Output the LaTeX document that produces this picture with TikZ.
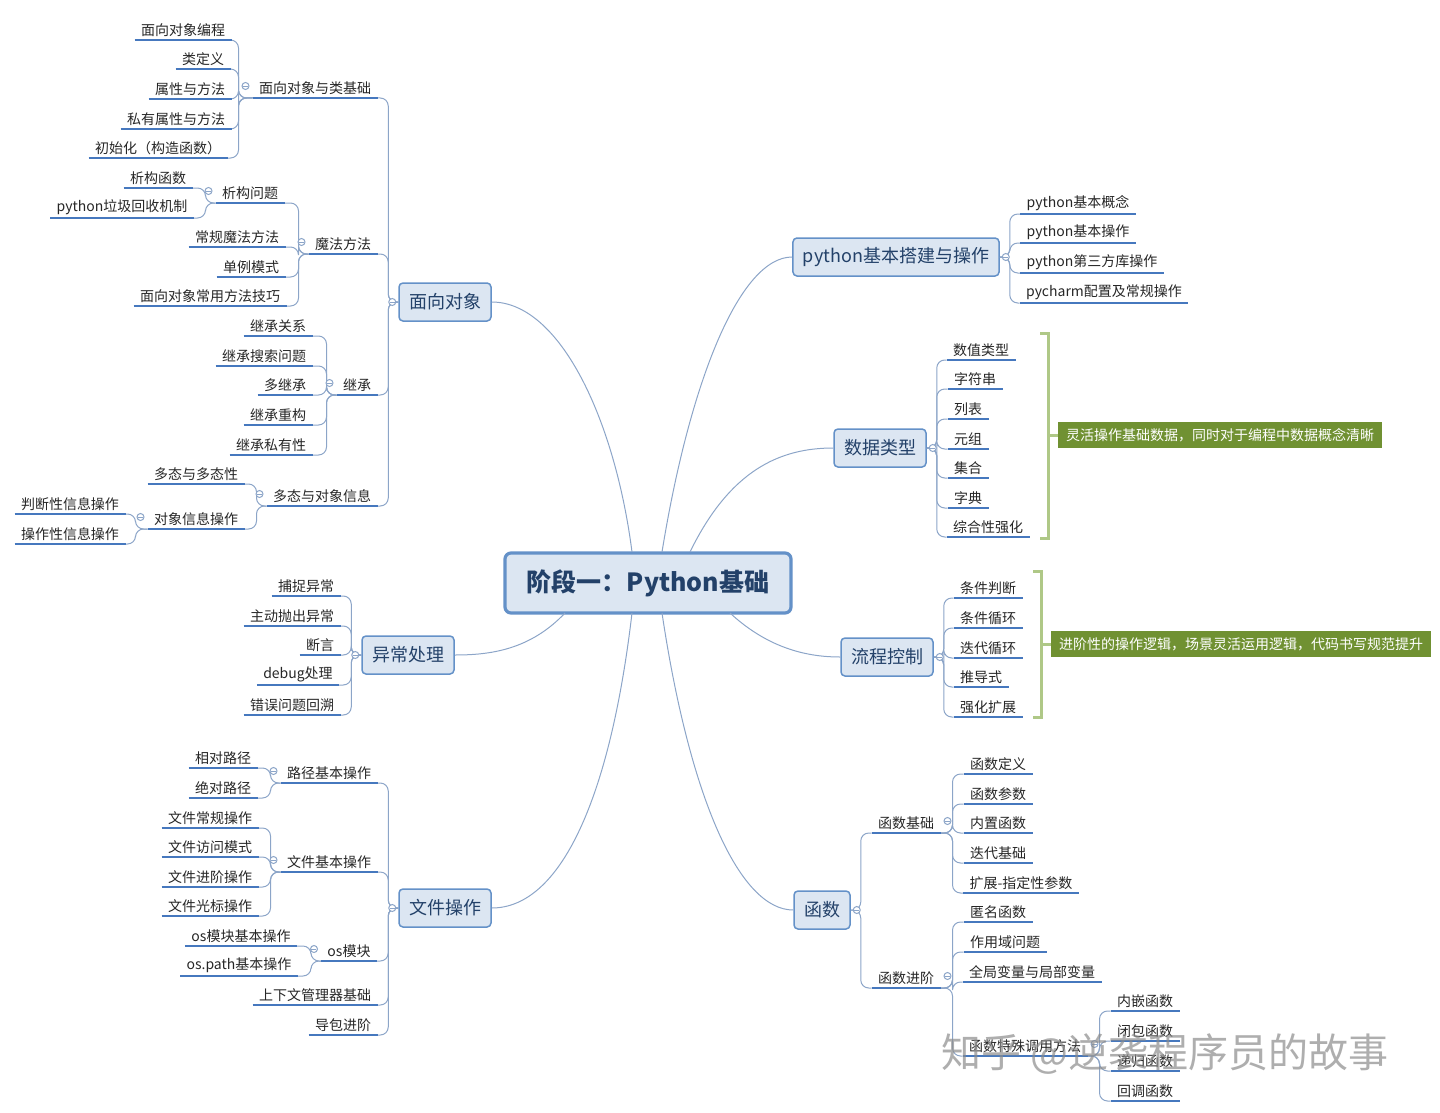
\documentclass[tikz,border=0pt]{standalone}
\usepackage{fontspec}
\setmainfont{Noto Sans CJK SC}
\usetikzlibrary{calc}
\definecolor{ulblue}{RGB}{70,120,190}
\definecolor{brline}{RGB}{140,165,200}
\definecolor{boxfill}{RGB}{220,230,242}
\definecolor{boxline}{RGB}{100,145,200}
\definecolor{boxtext}{RGB}{35,65,105}
\definecolor{sumgreen}{RGB}{175,200,135}
\definecolor{sumfill}{RGB}{112,145,50}
\tikzset{every picture/.style={line width=0.5pt}}
\tikzset{
  leaf/.style={anchor=south,inner xsep=3pt,inner ysep=1.5pt,font=\fontsize{7}{8}\selectfont,text=black!85},
  ul/.style={draw=ulblue,line width=1pt},
  br/.style={draw=brline,rounded corners=4pt},
  topic/.style={draw=boxline,fill=boxfill,rounded corners=2pt,line width=0.75pt,minimum height=19pt,inner xsep=5pt,font=\fontsize{9}{10}\selectfont,text=boxtext},
  tog/.style={circle,draw=brline,fill=white,inner sep=0pt,minimum size=3.5pt,path picture={\draw[brline,line width=0.4pt] ($(path picture bounding box.west)+(1,0)$) -- ($(path picture bounding box.east)+(-1,0)$);}},
  sum/.style={draw=sumgreen,line width=1.5pt},
  sumlbl/.style={fill=sumfill,text=white,font=\fontsize{7}{8}\selectfont\itshape,inner xsep=4pt,minimum height=13pt}
}
\begin{document}
\begin{tikzpicture}[x=0.5pt,y=-0.5pt]
\useasboundingbox (0,0) rectangle (1440,1113);

% central topic
\node[draw=boxline,fill=boxfill,rounded corners=3pt,line width=1.6pt,minimum width=143pt,minimum height=30pt,font=\fontsize{12.5}{14}\selectfont\bfseries,text=boxtext] (root) at (648,583) {阶段一：Python基础};

% main topics
\node[topic] (oop) at (445,302) {面向对象};
\node[topic] (exc) at (408,655) {异常处理};
\node[topic] (file) at (445,908) {文件操作};
\node[topic] (py) at (896,257) {python基本搭建与操作};
\node[topic] (dt) at (880,448) {数据类型};
\node[topic] (flow) at (887,657) {流程控制};
\node[topic] (fn) at (822,910) {函数};

\draw[brline] (632,552) .. controls (615,420) and (560,302) .. (oop.east);
\draw[brline] (662,552) .. controls (690,380) and (740,257) .. (py.west);
\draw[brline] (690,552) .. controls (730,470) and (780,448) .. (dt.west);
\draw[brline] (565,613) .. controls (530,650) and (490,655) .. (exc.east);
\draw[brline] (632,613) .. controls (610,800) and (560,908) .. (file.east);
\draw[brline] (730,613) .. controls (770,650) and (810,657) .. (flow.west);
\draw[brline] (662,613) .. controls (690,800) and (740,910) .. (fn.west);

% ---- 面向对象
\node[leaf] (o1) at (315,98) {面向对象与类基础};
\node[leaf] (o2) at (343,254) {魔法方法};
\node[leaf] (o3) at (357,395) {继承};
\node[leaf] (o4) at (322,506) {多态与对象信息};
\node[leaf] (o11) at (183,40) {面向对象编程};
\node[leaf] (o12) at (203,69) {类定义};
\node[leaf] (o13) at (190,99) {属性与方法};
\node[leaf] (o14) at (176,129) {私有属性与方法};
\node[leaf] (o15) at (158,158) {初始化（构造函数）};
\node[leaf] (o21) at (250,203) {析构问题};
\node[leaf] (o22) at (237,247) {常规魔法方法};
\node[leaf] (o23) at (251,277) {单例模式};
\node[leaf] (o24) at (210,306) {面向对象常用方法技巧};
\node[leaf] (o211) at (158,188) {析构函数};
\node[leaf] (o212) at (122,218) {python垃圾回收机制};
\node[leaf] (o31) at (278,336) {继承关系};
\node[leaf] (o32) at (264,366) {继承搜索问题};
\node[leaf] (o33) at (285,395) {多继承};
\node[leaf] (o34) at (278,425) {继承重构};
\node[leaf] (o35) at (271,455) {继承私有性};
\node[leaf] (o41) at (196,484) {多态与多态性};
\node[leaf] (o42) at (196,529) {对象信息操作};
\node[leaf] (o421) at (70,514) {判断性信息操作};
\node[leaf] (o422) at (70,544) {操作性信息操作};

\foreach \c in {o1,o2,o3,o4} \draw[br] (oop.west) -- ++(-10,0) |- (\c.south east);
\foreach \c in {o11,o12,o13,o14,o15} \draw[br] (o1.south west) -- ++(-14,0) |- (\c.south east);
\foreach \c in {o21,o22,o23,o24} \draw[br] (o2.south west) -- ++(-10,0) |- (\c.south east);
\foreach \c in {o211,o212} \draw[br] (o21.south west) -- ++(-10,0) |- (\c.south east);
\foreach \c in {o31,o32,o33,o34,o35} \draw[br] (o3.south west) -- ++(-10,0) |- (\c.south east);
\foreach \c in {o41,o42} \draw[br] (o4.south west) -- ++(-10,0) |- (\c.south east);
\foreach \c in {o421,o422} \draw[br] (o42.south west) -- ++(-12,0) |- (\c.south east);

% ---- 异常处理
\node[leaf] (e1) at (306,596) {捕捉异常};
\node[leaf] (e2) at (292,626) {主动抛出异常};
\node[leaf] (e3) at (320,655) {断言};
\node[leaf] (e4) at (298,685) {debug处理};
\node[leaf] (e5) at (292,715) {错误问题回溯};
\foreach \c in {e1,e2,e3,e4,e5} \draw[br] (exc.west) -- ++(-10,0) |- (\c.south east);

% ---- 文件操作
\node[leaf] (f1) at (329,783) {路径基本操作};
\node[leaf] (f2) at (329,872) {文件基本操作};
\node[leaf] (f3) at (349,961) {os模块};
\node[leaf] (f4) at (315,1005) {上下文管理器基础};
\node[leaf] (f5) at (343,1035) {导包进阶};
\node[leaf] (f11) at (223,768) {相对路径};
\node[leaf] (f12) at (223,798) {绝对路径};
\node[leaf] (f21) at (210,828) {文件常规操作};
\node[leaf] (f22) at (210,857) {文件访问模式};
\node[leaf] (f23) at (210,887) {文件进阶操作};
\node[leaf] (f24) at (210,916) {文件光标操作};
\node[leaf] (f31) at (241,946) {os模块基本操作};
\node[leaf] (f32) at (239,976) {os.path基本操作};
\foreach \c in {f1,f2,f3,f4,f5} \draw[br] (file.west) -- ++(-10,0) |- (\c.south east);
\foreach \c in {f11,f12} \draw[br] (f1.south west) -- ++(-10,0) |- (\c.south east);
\foreach \c in {f21,f22,f23,f24} \draw[br] (f2.south west) -- ++(-10,0) |- (\c.south east);
\foreach \c in {f31,f32} \draw[br] (f3.south west) -- ++(-10,0) |- (\c.south east);

% ---- python基本搭建与操作
\node[leaf] (p1) at (1078,214) {python基本概念};
\node[leaf] (p2) at (1078,243) {python基本操作};
\node[leaf] (p3) at (1092,273) {python第三方库操作};
\node[leaf] (p4) at (1104,303) {pycharm配置及常规操作};
\foreach \c in {p1,p2,p3,p4} \draw[br] (py.east) -- ++(10,0) |- (\c.south west);

% ---- 数据类型
\node[leaf] (d1) at (981,360) {数值类型};
\node[leaf] (d2) at (975,389) {字符串};
\node[leaf] (d3) at (968,419) {列表};
\node[leaf] (d4) at (968,449) {元组};
\node[leaf] (d5) at (968,478) {集合};
\node[leaf] (d6) at (968,508) {字典};
\node[leaf] (d7) at (988,537) {综合性强化};
\foreach \c in {d1,d2,d3,d4,d5,d6,d7} \draw[br] (dt.east) -- ++(10,0) |- (\c.south west);
\draw[sum] (1040,333) -- (1048,333) -- (1048,538) -- (1040,538);
\node[sumlbl] (s1) at (1220,435) {灵活操作基础数据，同时对于编程中数据概念清晰};
\draw[sum] (1048,435) -- (s1.west);

% ---- 流程控制
\node[leaf] (c1) at (988,598) {条件判断};
\node[leaf] (c2) at (988,628) {条件循环};
\node[leaf] (c3) at (988,658) {迭代循环};
\node[leaf] (c4) at (981,687) {推导式};
\node[leaf] (c5) at (988,717) {强化扩展};
\foreach \c in {c1,c2,c3,c4,c5} \draw[br] (flow.east) -- ++(10,0) |- (\c.south west);
\draw[sum] (1033,571) -- (1041,571) -- (1041,717) -- (1033,717);
\node[sumlbl] (s2) at (1241,644) {进阶性的操作逻辑，场景灵活运用逻辑，代码书写规范提升};
\draw[sum] (1041,644) -- (s2.west);

% ---- 函数
\node[leaf] (n1) at (906,833) {函数基础};
\node[leaf] (n2) at (906,988) {函数进阶};
\node[leaf] (n11) at (998,774) {函数定义};
\node[leaf] (n12) at (998,804) {函数参数};
\node[leaf] (n13) at (998,833) {内置函数};
\node[leaf] (n14) at (998,863) {迭代基础};
\node[leaf] (n15) at (1021,893) {扩展-指定性参数};
\node[leaf] (n21) at (998,922) {匿名函数};
\node[leaf] (n22) at (1005,952) {作用域问题};
\node[leaf] (n23) at (1032,982) {全局变量与局部变量};
\node[leaf] (n24) at (1025,1056) {函数特殊调用方法};
\node[leaf] (n241) at (1145,1011) {内嵌函数};
\node[leaf] (n242) at (1145,1041) {闭包函数};
\node[leaf] (n243) at (1145,1071) {递归函数};
\node[leaf] (n244) at (1145,1101) {回调函数};
\foreach \c in {n1,n2} \draw[br] (fn.east) -- ++(10,0) |- (\c.south west);
\foreach \c in {n11,n12,n13,n14,n15} \draw[br] (n1.south east) -- ++(12,0) |- (\c.south west);
\foreach \c in {n21,n22,n23,n24} \draw[br] (n2.south east) -- ++(12,0) |- (\c.south west);
\foreach \c in {n241,n242,n243,n244} \draw[br] (n24.south east) -- ++(12,0) |- (\c.south west);

% underlines
\foreach \n in {o1,o2,o3,o4,o11,o12,o13,o14,o15,o21,o22,o23,o24,o211,o212,o31,o32,o33,o34,o35,o41,o42,o421,o422,
  e1,e2,e3,e4,e5,f1,f2,f3,f4,f5,f11,f12,f21,f22,f23,f24,f31,f32,p1,p2,p3,p4,d1,d2,d3,d4,d5,d6,d7,
  c1,c2,c3,c4,c5,n1,n2,n11,n12,n13,n14,n15,n21,n22,n23,n24,n241,n242,n243,n244}
  \draw[ul] (\n.south west) -- (\n.south east);

% collapse markers
\foreach \p in {oop,exc,file} \node[tog] at ($(\p.west)+(-6,0)$) {};
\foreach \p in {py,dt,flow,fn} \node[tog] at ($(\p.east)+(6,0)$) {};
\foreach \p in {o1,o2,o21,o3,o4,o42,f1,f2,f3} \node[tog] at ($(\p.south west)+(-7,-12)$) {};
\foreach \p in {n1,n2,n24} \node[tog] at ($(\p.south east)+(7,-12)$) {};

% watermark
\node[text=black!45,opacity=0.7,font=\fontsize{20}{22}\selectfont] (wm) at (1165,1054) {知乎 @逆袭程序员的故事};
\end{tikzpicture}
\end{document}
